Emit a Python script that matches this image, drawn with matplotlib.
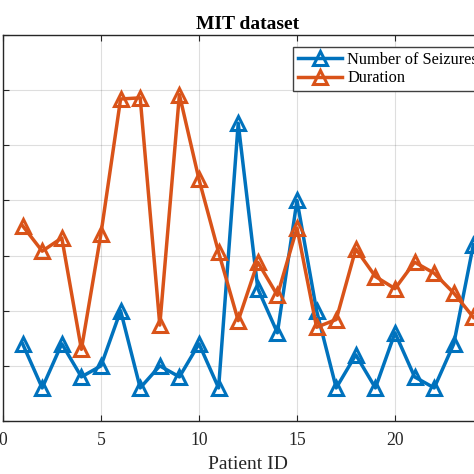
import matplotlib
matplotlib.use("Agg")
import matplotlib.pyplot as plt

patient_ids = list(range(1, 25))
num_seizures = [7, 3, 7, 4, 5, 10, 3, 5, 4, 7, 3, 27, 12, 8, 20, 10, 3, 6, 3, 8, 4, 3, 7, 16]
duration = [17.7, 15.4, 16.6, 6.5, 17.0, 29.2, 29.3, 8.7, 29.6, 21.9, 15.3, 9.1,
            14.4, 11.4, 17.5, 8.5, 9.2, 15.6, 13.1, 12.0, 14.4, 13.4, 11.6, 9.4]
x_ticks = [0, 5, 10, 15, 20, 25]
y_ticks = [0, 5, 10, 15, 20, 25, 30, 35]
series_labels = ["Number of Seizures", "Duration"]

plt.rcParams['font.family'] = ['Liberation Serif', 'DejaVu Serif']

fig = plt.figure(figsize=(4.74, 4.74), dpi=100)
ax = fig.add_axes([3/474, (474-421)/474, 490/474, 386/474])

blue = '#0072BD'
orange = '#D95319'
ax.plot(patient_ids, num_seizures, color=blue, lw=2.5, marker='^', ms=9.5,
        mfc='none', mec=blue, mew=2.2, label=series_labels[0], zorder=3)
ax.plot(patient_ids, duration, color=orange, lw=2.5, marker='^', ms=9.5,
        mfc='none', mec=orange, mew=2.2, label=series_labels[1], zorder=3)

ax.set_xlim(0, 25)
ax.set_ylim(0, 35)
ax.set_xticks(x_ticks)
ax.set_yticks(y_ticks)
ax.grid(True, color='#262626', alpha=0.15, lw=0.8)
ax.set_axisbelow(True)
for s in ax.spines.values():
    s.set_color('#262626')
    s.set_linewidth(1.0)
ax.tick_params(direction='in', length=4, width=0.8, colors='#262626',
               labelsize=12.7, pad=8, top=True, right=True)
ax.set_xlabel('Patient ID', fontsize=14, labelpad=5, color='#262626')
ax.set_title('MIT dataset', fontsize=14, fontweight='bold', pad=4)

leg = ax.legend(loc='upper left', bbox_to_anchor=((293-3)/490, (421-47)/386),
                borderaxespad=0, fontsize=11.8, handlelength=2.7,
                handletextpad=0.3, borderpad=0.3, labelspacing=0.15,
                fancybox=False, framealpha=1, edgecolor='#404040')
leg.get_frame().set_linewidth(1.0)

fig.savefig('out.png', dpi=100)
